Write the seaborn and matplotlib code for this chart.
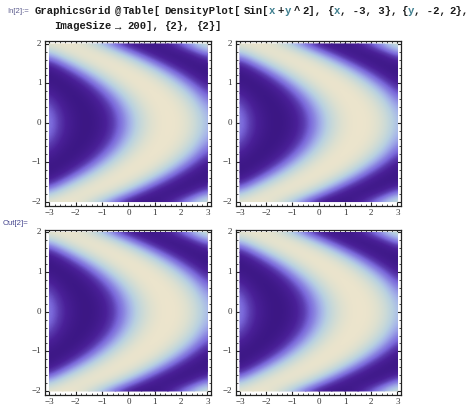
import numpy as np
import pandas as pd
import matplotlib.pyplot as plt
import seaborn as sns
from matplotlib.colors import LinearSegmentedColormap
from matplotlib.patches import Rectangle

# valores
x_vals = [-3, -2.5, -2, -1.5, -1, -0.5, 0, 0.5, 1, 1.5, 2, 2.5, 3]
y_vals = [2, 1.75, 1.5, 1.25, 1, 0.75, 0.5, 0.25, 0, -0.25, -0.5, -0.75, -1, -1.25, -1.5, -1.75, -2]
density = [
    [0.84, 1.00, 0.91, 0.60, 0.14, -0.35, -0.76, -0.98, -0.96, -0.71, -0.28, 0.22, 0.66],
    [0.06, 0.53, 0.87, 1.00, 0.88, 0.55, 0.08, -0.41, -0.80, -0.99, -0.94, -0.66, -0.22],
    [-0.68, -0.25, 0.25, 0.68, 0.95, 0.98, 0.78, 0.38, -0.11, -0.57, -0.89, -1.00, -0.86],
    [-0.99, -0.81, -0.42, 0.06, 0.53, 0.87, 1.00, 0.88, 0.55, 0.08, -0.41, -0.80, -0.99],
    [-0.91, -1.00, -0.84, -0.48, 0.00, 0.48, 0.84, 1.00, 0.91, 0.60, 0.14, -0.35, -0.76],
    [-0.65, -0.93, -0.99, -0.81, -0.42, 0.06, 0.53, 0.87, 1.00, 0.88, 0.55, 0.08, -0.41],
    [-0.38, -0.78, -0.98, -0.95, -0.68, -0.25, 0.25, 0.68, 0.95, 0.98, 0.78, 0.38, -0.11],
    [-0.20, -0.65, -0.93, -0.99, -0.81, -0.42, 0.06, 0.53, 0.87, 1.00, 0.88, 0.55, 0.08],
    [-0.14, -0.60, -0.91, -1.00, -0.84, -0.48, 0.00, 0.48, 0.84, 1.00, 0.91, 0.60, 0.14],
    [-0.20, -0.65, -0.93, -0.99, -0.81, -0.42, 0.06, 0.53, 0.87, 1.00, 0.88, 0.55, 0.08],
    [-0.38, -0.78, -0.98, -0.95, -0.68, -0.25, 0.25, 0.68, 0.95, 0.98, 0.78, 0.38, -0.11],
    [-0.65, -0.93, -0.99, -0.81, -0.42, 0.06, 0.53, 0.87, 1.00, 0.88, 0.55, 0.08, -0.41],
    [-0.91, -1.00, -0.84, -0.48, 0.00, 0.48, 0.84, 1.00, 0.91, 0.60, 0.14, -0.35, -0.76],
    [-0.99, -0.81, -0.42, 0.06, 0.53, 0.87, 1.00, 0.88, 0.55, 0.08, -0.41, -0.80, -0.99],
    [-0.68, -0.25, 0.25, 0.68, 0.95, 0.98, 0.78, 0.38, -0.11, -0.57, -0.89, -1.00, -0.86],
    [0.06, 0.53, 0.87, 1.00, 0.88, 0.55, 0.08, -0.41, -0.80, -0.99, -0.94, -0.66, -0.22],
    [0.84, 1.00, 0.91, 0.60, 0.14, -0.35, -0.76, -0.98, -0.96, -0.71, -0.28, 0.22, 0.66],
]
x_ticks = [-3, -2, -1, 0, 1, 2, 3]
y_ticks = [-2, -1, 0, 1, 2]

df = pd.DataFrame(density, index=y_vals, columns=x_vals)

W, H = 474, 413
sns.set_style('white')
plt.rcParams['font.family'] = ['Liberation Serif', 'DejaVu Serif']

colores = [(0.0, '#3a1682'), (0.15, '#4a2098'), (0.25, '#5b3cb0'), (0.35, '#7a68da'), (0.43, '#8a84e0'),
           (0.5, '#9aa0e6'), (0.57, '#a8b8e8'), (0.66, '#b8d0e0'), (0.75, '#c9d9d8'), (0.865, '#dde0d0'),
           (0.965, '#ebe4cc'), (1.0, '#eee6cd')]
mapa = LinearSegmentedColormap.from_list('lago', colores)

fig = plt.figure(figsize=(W / 100, H / 100), dpi=100, facecolor='white')

# posiciones x -> indice de la malla
def idx_x(v):
    return (np.asarray(v) + 3) * 2

def idx_y(v):
    return (2 - np.asarray(v)) * 4

def panel(left, top, right, bottom):
    ax = fig.add_axes([left / W, 1 - bottom / H, (right - left) / W, (bottom - top) / H])
    sns.heatmap(df, ax=ax, cmap=mapa, vmin=-1, vmax=1, cbar=False, shading='gouraud')
    # la malla sale a facetas, encima los mismos datos suavizados
    im = ax.imshow(df.values, cmap=mapa, vmin=-1, vmax=1, aspect='auto', interpolation='bicubic',
                   interpolation_stage='data', origin='upper', extent=(-0.5, 12.5, 16.5, -0.5), zorder=3)
    im.set_clip_path(Rectangle((0, 0), 12, 16, transform=ax.transData))
    ax.set_xlim(-0.34, 12.27)
    ax.set_ylim(16.4, -0.3)
    ax.set_xticks(idx_x(x_ticks))
    ax.set_xticklabels([str(t).replace('-', '\u2212') for t in x_ticks], rotation=0)
    ax.set_yticks(idx_y(y_ticks))
    ax.set_yticklabels([str(t).replace('-', '\u2212') for t in y_ticks], rotation=0)
    ax.set_xticks(idx_x(np.arange(-3, 3.01, 0.2)), minor=True)
    ax.set_yticks(idx_y(np.arange(-2, 2.01, 0.2)), minor=True)
    ax.tick_params(which='major', direction='in', length=3, width=0.8, top=True, right=True,
                   left=True, bottom=True, labelsize=6.5, pad=2.5, color='#222222', labelcolor='#333333')
    ax.tick_params(which='minor', direction='in', length=1.5, width=0.6, top=True, right=True,
                   left=True, bottom=True, color='#222222')
    ax.set_xlabel('')
    ax.set_ylabel('')
    for s in ax.spines.values():
        s.set_visible(True)
        s.set_color('#222222')
        s.set_linewidth(0.9)

panel(45, 41, 211, 205.5)
panel(235.5, 41, 401, 205.5)
panel(45, 229.5, 211, 395)
panel(235.5, 229.5, 401, 395)

# texto de la celda de entrada, cada trozo en su sitio
negro = '#1c1c1c'
azul = '#3f7f8f'
def codigo(px, py, txt, col=negro):
    fig.text(px / W, 1 - py / H, txt, family=['Liberation Mono', 'DejaVu Sans Mono'], weight='bold',
             fontsize=7.7, color=col, va='center', ha='left')

codigo(35, 11, 'GraphicsGrid')
codigo(114.5, 11, '@')
codigo(123, 11, 'Table[')
codigo(164, 11, 'DensityPlot[')
codigo(243.5, 11, 'Sin[')
codigo(269, 11, 'x', azul)
codigo(277.5, 11, '+')
codigo(285, 11, 'y', azul)
codigo(294, 11, '^')
codigo(302, 11, '2],')
codigo(327.5, 11, '{')
codigo(334, 11, 'x', azul)
codigo(340.5, 11, ', -3, 3},')
codigo(401.5, 11, '{')
codigo(408, 11, 'y', azul)
codigo(414.5, 11, ', -2,')
codigo(449, 11, '2},')
codigo(54.5, 26, 'ImageSize')
codigo(115, 26, '\u2192')
codigo(127.5, 26, '200],')
codigo(165, 26, '{2},')
codigo(197, 26, '{2}]')

fig.text(7 / W, 1 - 11.5 / H, 'In[2]:=', family='Liberation Sans', fontsize=5.6, color='#5a5a8c', va='center')
fig.text(3 / W, 1 - 223.5 / H, 'Out[2]=', family='Liberation Sans', fontsize=5.6, color='#45458f', va='center')

fig.savefig('out.png', dpi=100)
